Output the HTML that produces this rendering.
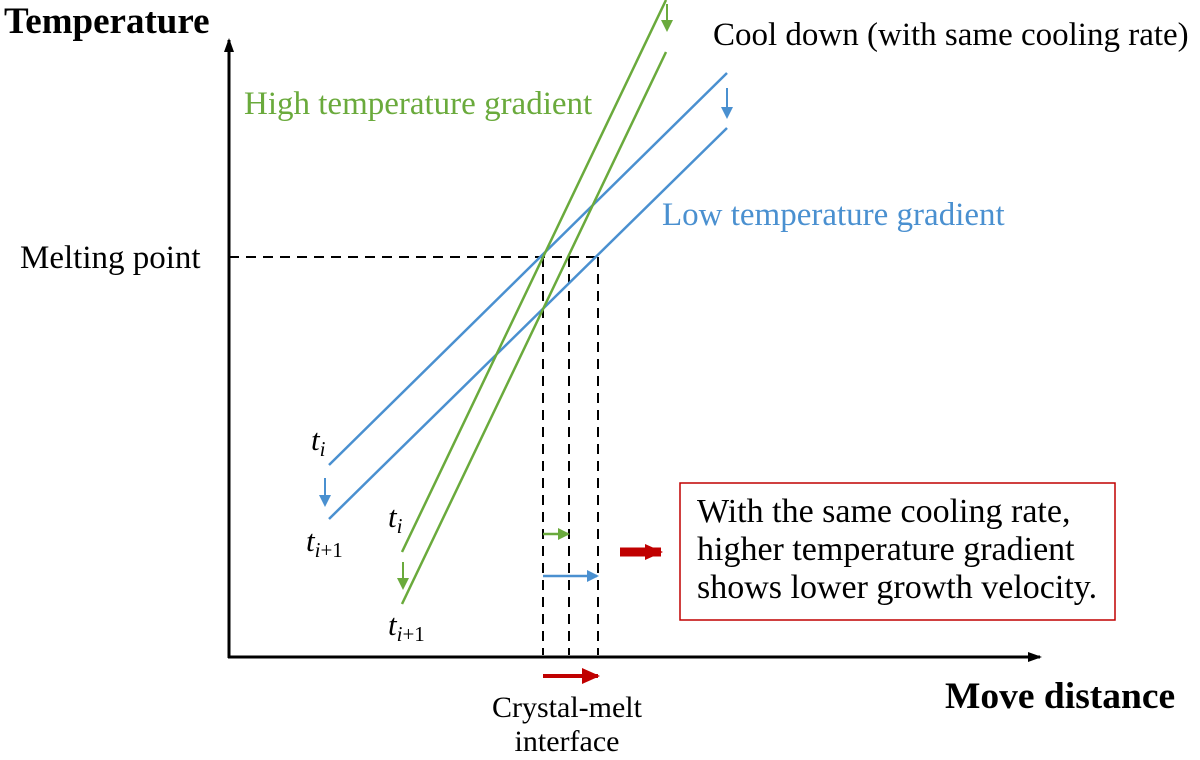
<!DOCTYPE html>
<html><head><meta charset="utf-8"><style>
body{margin:0;background:#fff}
svg{display:block;font-family:"Liberation Serif",serif}
</style></head><body>
<svg width="1200" height="760" viewBox="0 0 1200 760">
<defs>
<marker id="ab" markerWidth="14" markerHeight="10" refX="12" refY="5" orient="auto" markerUnits="userSpaceOnUse"><path d="M0,0L14,5L0,10z" fill="#000"/></marker>
<marker id="ag" markerWidth="12" markerHeight="12" refX="10" refY="6" orient="auto" markerUnits="userSpaceOnUse"><path d="M0,0L12,6L0,12z" fill="#6aaa3c"/></marker>
<marker id="abl" markerWidth="12" markerHeight="12" refX="10" refY="6" orient="auto" markerUnits="userSpaceOnUse"><path d="M0,0L12,6L0,12z" fill="#4a90d0"/></marker>
<marker id="ar" markerWidth="18" markerHeight="16" refX="16" refY="8" orient="auto" markerUnits="userSpaceOnUse"><path d="M0,0L18,8L0,16z" fill="#c00000"/></marker>
</defs>
<g>
<line x1="229" y1="658" x2="229" y2="40" stroke="#000" stroke-width="3" marker-end="url(#ab)"/>
<line x1="228" y1="657" x2="1040" y2="657" stroke="#000" stroke-width="3" marker-end="url(#ab)"/>
<text x="4" y="33" font-size="37" font-weight="bold">Temperature</text>
<text x="945" y="708" font-size="37.5" font-weight="bold">Move distance</text>
</g>
<g stroke="#000" stroke-width="2" stroke-dasharray="10,7" fill="none">
<line x1="229" y1="257" x2="598" y2="257"/>
<line x1="543" y1="257" x2="543" y2="655"/>
<line x1="569" y1="257" x2="569" y2="655"/>
<line x1="598" y1="257" x2="598" y2="655"/>
</g>
<text x="20" y="268" font-size="33">Melting point</text>
<g stroke="#4a90d0" stroke-width="2.5">
<line x1="329" y1="465" x2="727" y2="73"/>
<line x1="329" y1="519" x2="727" y2="128"/>
<line x1="325" y1="478" x2="325" y2="505" marker-end="url(#abl)" stroke-width="2"/>
<line x1="727" y1="88" x2="727" y2="117" marker-end="url(#abl)" stroke-width="2"/>
<line x1="543" y1="576" x2="597" y2="576" marker-end="url(#abl)"/>
</g>
<g stroke="#6aaa3c" stroke-width="2.5">
<line x1="402" y1="552" x2="666" y2="0"/>
<line x1="402" y1="604" x2="666" y2="52"/>
<line x1="403" y1="562" x2="403" y2="588" marker-end="url(#ag)" stroke-width="2"/>
<line x1="667" y1="4" x2="667" y2="30" marker-end="url(#ag)" stroke-width="2"/>
<line x1="543" y1="534" x2="568" y2="534" marker-end="url(#ag)"/>
</g>
<text x="244" y="114" font-size="33" fill="#6aaa3c">High temperature gradient</text>
<text x="662" y="225" font-size="33" fill="#4a90d0">Low temperature gradient</text>
<text x="713" y="45" font-size="33">Cool down (with same cooling rate)</text>
<g font-size="31" font-style="italic">
<text x="311" y="450">t<tspan font-size="21" dy="6">i</tspan></text>
<text x="306" y="551">t<tspan font-size="21" dy="6">i</tspan><tspan font-style="normal" font-size="21">+1</tspan></text>
<text x="388" y="527">t<tspan font-size="21" dy="6">i</tspan></text>
<text x="388" y="635">t<tspan font-size="21" dy="6">i</tspan><tspan font-style="normal" font-size="21">+1</tspan></text>
</g>
<line x1="543" y1="676" x2="598" y2="676" stroke="#c00000" stroke-width="4" marker-end="url(#ar)"/>
<text x="567" y="717" font-size="30" text-anchor="middle">Crystal-melt</text>
<text x="567" y="751" font-size="30" text-anchor="middle">interface</text>
<line x1="620" y1="552" x2="661" y2="552" stroke="#c00000" stroke-width="9" marker-end="url(#ar)"/>
<g>
<rect x="680" y="483" width="435" height="137" fill="#fff" stroke="#c00000" stroke-width="1.5"/>
<text x="697" y="522" font-size="34">With the same cooling rate,</text>
<text x="697" y="560" font-size="34">higher temperature gradient</text>
<text x="697" y="598" font-size="34">shows lower growth velocity.</text>
</g>
</svg>
</body></html>
